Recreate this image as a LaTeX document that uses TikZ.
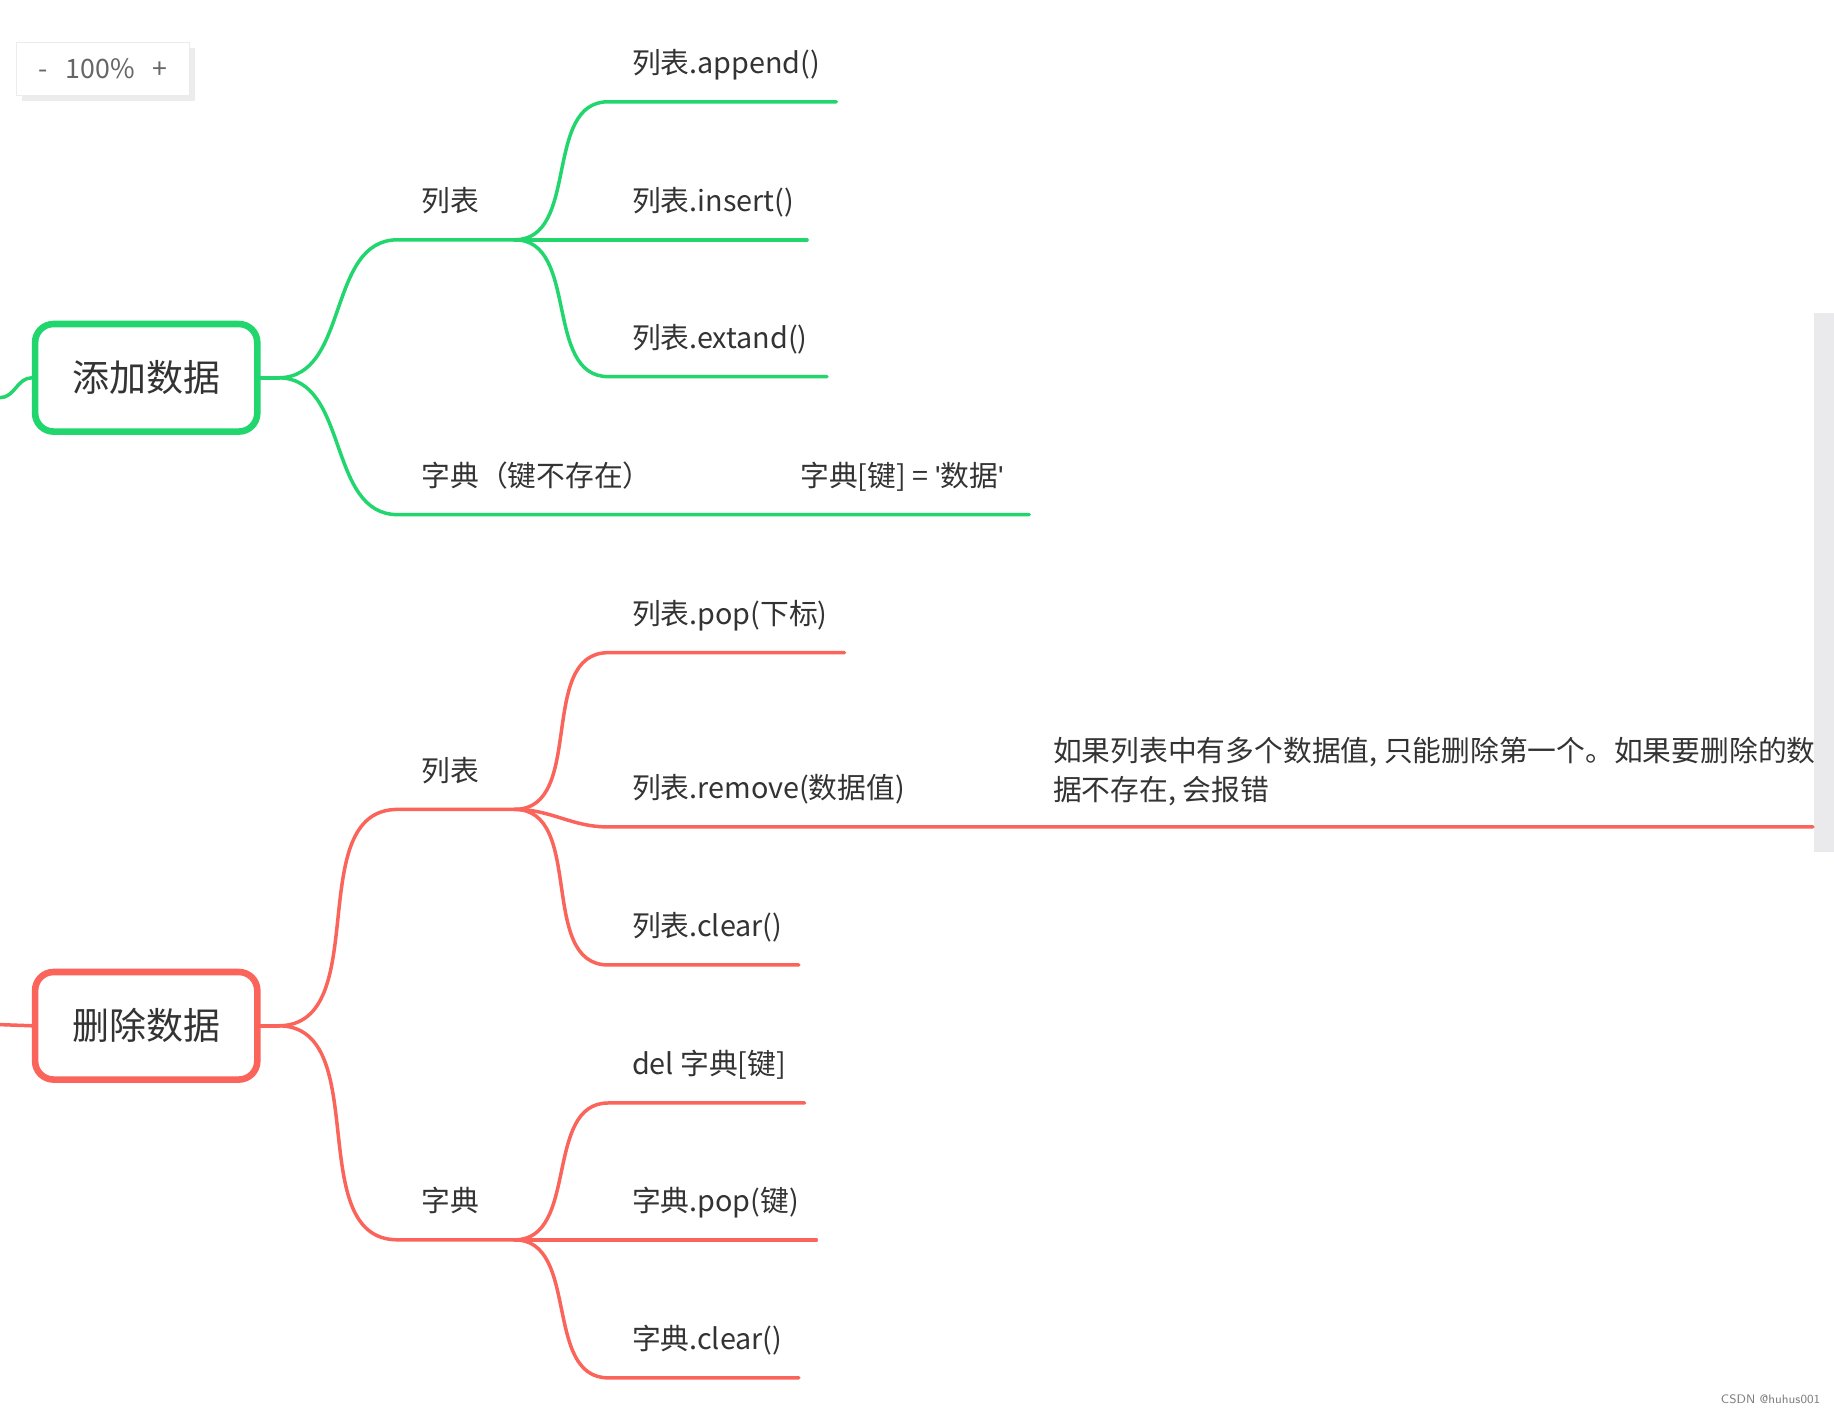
\documentclass[tikz,border=0pt]{standalone}
\usepackage{fontspec}
\setmainfont{Noto Sans CJK SC}
\newfontfamily\quotefont{Liberation Sans}
\usetikzlibrary{shadows}
\definecolor{addgreen}{RGB}{34,214,110}
\definecolor{delred}{RGB}{250,100,90}
\definecolor{txtgray}{RGB}{51,51,51}
\newcommand{\squote}{{\quotefont\char"27}}
\tikzset{
  branch/.style={line width=1.7pt, line cap=round},
  rootbox/.style={draw, line width=3.2pt, rounded corners=9pt, minimum width=3.8cm, minimum height=1.84cm, text=txtgray, font=\fontsize{18}{21}\selectfont},
  lbl/.style={anchor=base west, inner sep=0pt, text=txtgray, font=\fontsize{14}{17}\selectfont},
  note/.style={anchor=north west, inner sep=0pt, text=txtgray, font=\fontsize{14}{19}\selectfont, align=left}
}
\begin{document}
\begin{tikzpicture}[x=0.02cm, y=-0.02cm]
\useasboundingbox[fill=white] (0,0) rectangle (1568,1206);
% zoom control and scroll bar
\node[draw=gray!15, fill=white, drop shadow={opacity=0.15}, minimum width=2.96cm, minimum height=0.92cm, text=gray!80!black, font=\fontsize{13}{16}\selectfont] (zoom) at (88,59) {-\hspace{0.3cm}100\%\hspace{0.3cm}+};
\fill[blue!8!gray!15] (1551,268) rectangle (1568,728);
\node[anchor=south east, inner sep=2pt, text=gray, font=\fontsize{6}{7}\selectfont\sffamily] (mark) at (1560,1204) {CSDN @huhus001};

% ---- add data (green)
\node[rootbox, draw=addgreen] (add) at (125,323) {添加数据};
\coordinate (addin) at (0,340);
\coordinate (addj) at (238,323);
\draw[branch, addgreen] (addin) to[out=0,in=180] (add.west);
\draw[branch, addgreen] (add.east) -- (addj);
\coordinate (al0) at (340,205); \coordinate (al1) at (440,205);
\coordinate (ad0) at (340,440); \coordinate (ad1) at (880,440);
\draw[branch, addgreen] (addj) to[out=0,in=180] (al0) -- (al1);
\draw[branch, addgreen] (addj) to[out=0,in=180] (ad0) -- (ad1);
\coordinate (aa0) at (520,87);  \coordinate (aa1) at (715,87);
\coordinate (ai1) at (690,205);
\coordinate (ae0) at (520,322); \coordinate (ae1) at (707,322);
\draw[branch, addgreen] (al1) to[out=0,in=180] (aa0) -- (aa1);
\draw[branch, addgreen] (al1) -- (ai1);
\draw[branch, addgreen] (al1) to[out=0,in=180] (ae0) -- (ae1);
\node[lbl] (tal) at (360,181) {列表};
\node[lbl] (taa) at (540,63) {列表.append()};
\node[lbl] (tai) at (540,181) {列表.insert()};
\node[lbl] (tae) at (540,298) {列表.extand()};
\node[lbl] (tad) at (360,416) {字典（键不存在）};
\node[lbl] (tadv) at (684,416) {字典[键] = \squote 数据\squote};

% ---- delete data (red)
\node[rootbox, draw=delred] (del) at (125,877) {删除数据};
\coordinate (delin) at (0,876);
\coordinate (delj) at (238,877);
\draw[branch, delred] (delin) -- (del.west);
\draw[branch, delred] (del.east) -- (delj);
\coordinate (dl0) at (340,692);  \coordinate (dl1) at (440,692);
\coordinate (dd0) at (340,1060); \coordinate (dd1) at (440,1060);
\draw[branch, delred] (delj) to[out=0,in=180] (dl0) -- (dl1);
\draw[branch, delred] (delj) to[out=0,in=180] (dd0) -- (dd1);
\coordinate (dp0) at (520,558);  \coordinate (dp1) at (722,558);
\coordinate (dr0) at (520,707);  \coordinate (dr1) at (1550,707);
\coordinate (dc0) at (520,825);  \coordinate (dc1) at (683,825);
\draw[branch, delred] (dl1) to[out=0,in=180] (dp0) -- (dp1);
\draw[branch, delred] (dl1) to[out=0,in=180] (dr0) -- (dr1);
\draw[branch, delred] (dl1) to[out=0,in=180] (dc0) -- (dc1);
\coordinate (de0) at (520,943);  \coordinate (de1) at (688,943);
\coordinate (dq1) at (698,1060);
\coordinate (dk0) at (520,1178); \coordinate (dk1) at (683,1178);
\draw[branch, delred] (dd1) to[out=0,in=180] (de0) -- (de1);
\draw[branch, delred] (dd1) -- (dq1);
\draw[branch, delred] (dd1) to[out=0,in=180] (dk0) -- (dk1);
\node[lbl] (tdl) at (360,668) {列表};
\node[lbl] (tdp) at (540,534) {列表.pop(下标)};
\node[lbl] (tdr) at (540,683) {列表.remove(数据值)};
\node[note] (tdn) at (900,630) {如果列表中有多个数据值, 只能删除第一个。如果要删除的数\\据不存在, 会报错};
\node[lbl] (tdc) at (540,801) {列表.clear()};
\node[lbl] (tdd) at (360,1036) {字典};
\node[lbl] (tde) at (540,919) {del 字典[键]};
\node[lbl] (tdq) at (540,1036) {字典.pop(键)};
\node[lbl] (tdk) at (540,1154) {字典.clear()};
\end{tikzpicture}
\end{document}
